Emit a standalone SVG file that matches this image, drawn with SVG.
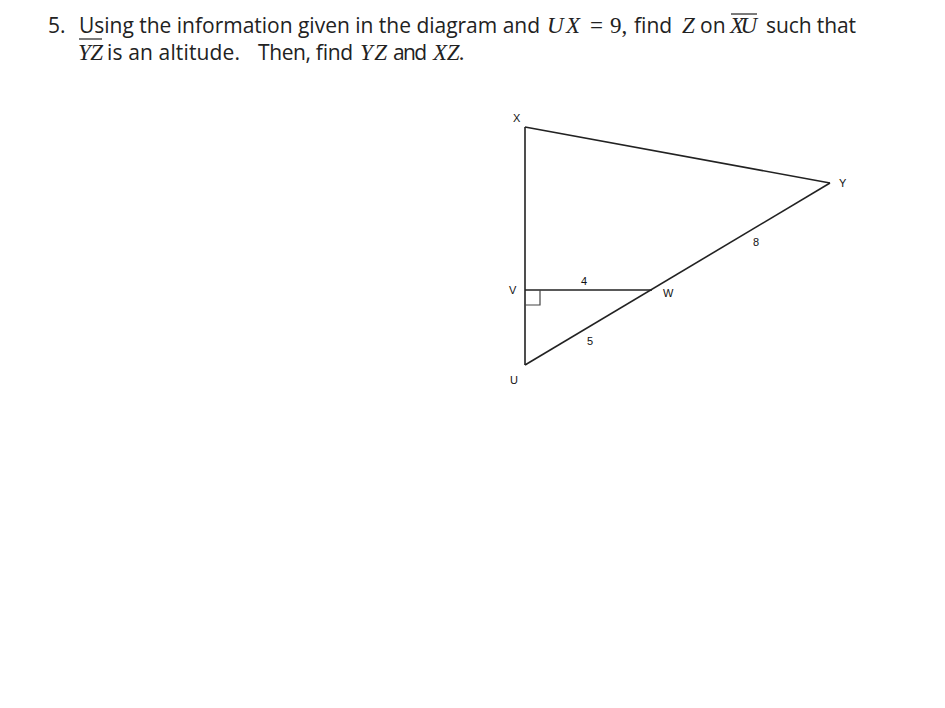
<svg xmlns="http://www.w3.org/2000/svg" width="945" height="708" viewBox="0 0 945 708">
<style>
.t{font-family:"Open Sans","Noto Sans",sans-serif;font-size:21px;fill:#222}
.m{font-family:"Liberation Serif",serif;font-style:italic;font-size:23px;fill:#222}
.n{font-family:"Liberation Serif",serif;font-size:23px;fill:#222}
.lbl{font-family:"Liberation Sans",Arial,sans-serif;font-size:11px;fill:#111}
.ln{stroke:#222;stroke-width:1.6;fill:none}
.ov{stroke:#222;stroke-width:1.2}
</style>
<rect width="945" height="708" fill="#fff"/>
<g id="question">
<text class="t" x="48" y="33">5.</text>
<text class="t" x="79" y="33" textLength="461" lengthAdjust="spacing">Using the information given in the diagram and</text>
<text class="m" x="547" y="33" textLength="33" lengthAdjust="spacing">UX</text>
<text class="n" x="590" y="33">=</text>
<text class="n" x="610" y="33">9,</text>
<text class="t" x="634" y="33" textLength="38" lengthAdjust="spacing">find</text>
<text class="m" x="682" y="33">Z</text>
<text class="t" x="700" y="33">on</text>
<text class="m" x="730" y="33" textLength="27" lengthAdjust="spacing">XU</text>
<line class="ov" x1="731" y1="14" x2="757" y2="14"/>
<text class="t" x="766" y="33" textLength="90" lengthAdjust="spacing">such that</text>
<text class="m" x="78" y="60" textLength="25" lengthAdjust="spacing">YZ</text>
<line class="ov" x1="79" y1="39" x2="102" y2="39"/>
<text class="t" x="107" y="60" textLength="133" lengthAdjust="spacing">is an altitude.</text>
<text class="t" x="258" y="60" textLength="95" lengthAdjust="spacing">Then, find</text>
<text class="m" x="360" y="60" textLength="27" lengthAdjust="spacing">YZ</text>
<text class="t" x="393" y="60" textLength="34" lengthAdjust="spacing">and</text>
<text class="m" x="433" y="60" textLength="32" lengthAdjust="spacing">XZ.</text>
</g>
<g id="connectors">
<line class="ln" x1="525" y1="127" x2="525" y2="365"/>
<line class="ln" x1="525" y1="127" x2="830" y2="183"/>
<line class="ln" x1="525" y1="365" x2="830" y2="183"/>
<line class="ln" x1="525" y1="290" x2="652" y2="290"/>
<polyline points="525,305 540,305 540,290" fill="none" stroke="#444" stroke-width="1.2"/>
</g>
<g id="node-X"><text class="lbl" x="513" y="122">X</text></g>
<g id="node-Y"><text class="lbl" x="839" y="187">Y</text></g>
<g id="node-U"><text class="lbl" x="510" y="384">U</text></g>
<g id="node-V"><text class="lbl" x="509" y="294">V</text></g>
<g id="node-W"><text class="lbl" x="663" y="297">W</text></g>
<g id="label-4"><text class="lbl" x="581" y="285">4</text></g>
<g id="label-5"><text class="lbl" x="587" y="345">5</text></g>
<g id="label-8"><text class="lbl" x="753" y="246">8</text></g>
</svg>
